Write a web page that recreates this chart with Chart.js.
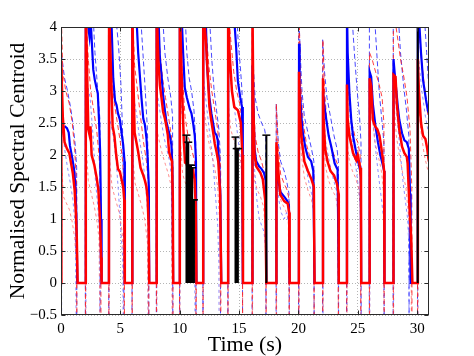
<!DOCTYPE html>
<html>
<head>
<meta charset="utf-8">
<script src="https://cdn.jsdelivr.net/npm/chart.js@4.4.1/dist/chart.umd.min.js"></script>
<style>
html,body{margin:0;padding:0;background:#fff;}
#wrap{width:474px;height:356px;}
</style>
</head>
<body>
<div id="wrap"><canvas id="c" width="474" height="356"></canvas></div>
<script>
// ---- tick labels ----
const xTickValues = [0, 5, 10, 15, 20, 25, 30];
const yTickValues = [-0.5, 0, 0.5, 1, 1.5, 2, 2.5, 3, 3.5, 4];

// ---- series values: [time (s), normalised spectral centroid] ----
const redSolid = [
[0,0],[0.03,3.4],[0.15,2.6],[0.3,2.2],[0.5,2.1],[0.7,2.03],[0.85,1.87],[1.0,1.71],[1.15,1.45],[1.25,1.1],[1.33,0.7],[1.4,0],[2.08,0],
[2.09,4.3],[2.3,2.4],[2.42,2.3],[2.48,2.45],[2.58,2.0],[2.8,1.85],[3.0,1.65],[3.15,1.45],[3.28,1.0],[3.38,0.4],[3.42,0],[4.04,0],
[4.05,4.3],[4.26,3.0],[4.35,2.45],[4.5,2.3],[4.65,2.0],[4.8,1.78],[4.96,1.74],[5.1,1.62],[5.24,1.5],[5.33,1.3],[5.37,0.5],[5.38,0],[6.0,0],
[6.01,4.3],[6.1,3.2],[6.2,2.35],[6.5,2.05],[6.7,1.8],[6.9,1.7],[7.07,1.6],[7.2,1.5],[7.3,1.32],[7.38,0.9],[7.43,0],[8.05,0],
[8.06,4.3],[8.2,3.5],[8.33,3.09],[8.47,2.89],[8.6,2.68],[8.75,2.57],[8.88,2.45],[9.0,2.31],[9.1,2.05],[9.25,1.95],[9.35,1.9],[9.42,1.3],[9.45,0],[10.0,0],
[10.01,4.3],[10.2,3.0],[10.35,2.2],[10.45,1.88],[10.8,1.83],[11.1,1.78],[11.25,1.62],[11.35,1.2],[11.41,0],[11.97,0],
[11.98,4.3],[12.2,3.8],[12.35,3.3],[12.5,2.76],[12.65,2.55],[12.83,2.34],[12.95,2.18],[13.1,2.05],[13.25,1.9],[13.4,1.4],[13.5,0],[14.07,0],
[14.08,4.3],[14.2,3.6],[14.4,3.0],[14.6,2.75],[14.9,2.7],[15.15,2.5],[15.28,2.0],[15.33,0],[16.12,0],
[16.13,4.3],[16.2,2.8],[16.3,2.0],[16.45,1.82],[16.8,1.72],[17.0,1.62],[17.2,1.3],[17.3,0],[18.14,0],
[18.15,2.2],[18.25,1.9],[18.35,1.65],[18.47,1.38],[18.8,1.28],[19.1,1.24],[19.22,1.1],[19.26,0],[20.04,0],
[20.05,3.3],[20.15,2.56],[20.3,2.2],[20.5,1.9],[20.8,1.75],[21.1,1.62],[21.3,1.5],[21.36,0],[22.06,0],
[22.07,3.2],[22.12,2.56],[22.25,2.1],[22.45,1.9],[22.7,1.75],[23.0,1.68],[23.25,1.55],[23.38,1.4],[23.4,0],[24.08,0],
[24.09,3.1],[24.15,2.56],[24.3,2.3],[24.6,2.03],[24.87,1.92],[25.0,2.0],[25.2,1.8],[25.27,1.6],[25.29,0],[25.99,0],
[26.0,3.2],[26.13,3.07],[26.27,2.55],[26.45,2.45],[26.65,2.4],[26.83,2.3],[26.97,2.13],[27.1,1.95],[27.22,1.75],[27.25,0],[28.0,0],
[28.01,3.25],[28.18,3.22],[28.29,2.8],[28.5,2.39],[28.73,2.13],[28.93,2.03],[29.13,1.97],[29.2,1.87],[29.35,1.2],[29.5,0.7],[29.6,0],[30.05,0],
[30.06,3.5],[30.15,3.0],[30.33,2.5],[30.5,2.3],[30.7,2.25],[30.85,2.1],[30.95,1.95],[31.0,1.9]
];

const blueSolid = [
[0.3,2.45],[0.5,2.42],[0.65,2.35],[0.75,2.15],[0.95,1.95],[1.1,1.78],[1.22,1.5],[1.3,1.0],[1.38,0],[2.08,0],
[2.09,4.3],[2.4,3.85],[2.5,4.1],[2.72,3.33],[2.85,3.17],[2.99,3.05],[3.1,2.96],[3.2,2.55],[3.3,2.03],[3.37,1.0],[3.42,0],[4.04,0],
[4.05,4.3],[4.25,4.1],[4.4,3.2],[4.55,2.85],[4.68,2.78],[4.8,2.65],[4.96,2.55],[5.1,2.35],[5.24,2.16],[5.35,1.9],[5.38,0],[6.0,0],
[6.01,4.3],[6.37,4.1],[6.5,3.6],[6.64,3.25],[6.78,2.89],[6.93,2.57],[7.07,2.47],[7.2,2.26],[7.3,1.95],[7.4,1.5],[7.43,0],[8.05,0],
[8.06,4.3],[8.2,4.2],[8.33,3.51],[8.47,3.25],[8.6,2.94],[8.75,2.7],[8.88,2.52],[9.02,2.41],[9.16,2.31],[9.3,2.16],[9.38,1.8],[9.45,0],[10.0,0],
[10.01,4.3],[10.2,4.0],[10.29,3.59],[10.43,3.05],[10.6,2.9],[10.71,2.82],[10.85,2.72],[10.99,2.65],[11.13,2.5],[11.27,2.3],[11.37,1.9],[11.41,0],[11.97,0],
[11.98,4.3],[12.2,4.1],[12.3,3.4],[12.5,2.9],[12.67,2.65],[12.81,2.5],[12.95,2.35],[13.1,2.31],[13.2,2.23],[13.3,1.9],[13.42,1.4],[13.5,0],[14.07,0],
[14.08,4.3],[14.6,4.1],[14.75,3.7],[14.9,3.15],[15.1,2.9],[15.25,2.75],[15.3,2.4],[15.33,0],[16.12,0],
[16.13,3.4],[16.2,2.9],[16.3,2.1],[16.45,1.9],[16.7,1.82],[16.9,1.78],[17.1,1.72],[17.25,1.6],[17.3,0],[18.14,0],
[18.15,2.0],[18.3,1.6],[18.5,1.42],[18.8,1.35],[19.0,1.3],[19.2,1.22],[19.26,0],[20.04,0],
[20.05,3.74],[20.1,3.1],[20.25,2.6],[20.38,2.34],[20.6,2.1],[20.8,1.97],[21.08,1.9],[21.25,1.75],[21.36,0],[22.06,0],
[22.07,3.0],[22.2,2.75],[22.35,2.55],[22.55,2.3],[22.77,2.13],[23.05,1.87],[23.3,1.77],[23.4,0],[24.08,0],
[24.09,4.3],[24.15,3.6],[24.3,2.95],[24.45,2.55],[24.6,2.3],[24.85,2.05],[25.15,1.8],[25.25,1.7],[25.29,0],[25.99,0],
[26.0,3.3],[26.13,3.22],[26.27,2.8],[26.49,2.45],[26.7,2.2],[26.9,2.0],[27.1,1.85],[27.22,1.75],[27.25,0],[28.0,0],
[28.01,3.5],[28.1,3.3],[28.25,3.0],[28.37,2.76],[28.5,2.55],[28.73,2.34],[28.93,2.23],[29.13,2.2],[29.3,2.1],[29.4,1.4],[29.45,0],[30.05,0],
[30.06,4.3],[30.2,4.0],[30.33,3.59],[30.5,3.17],[30.75,2.86],[30.9,2.7],[31.0,2.65]
];

const blueDashed = [
[0,-1],[0.02,3.6],[0.3,3.2],[0.55,3.0],[0.8,2.75],[1.0,2.5],[1.2,2.15],[1.32,1.8],[1.33,-1],
[2.05,-1],[2.06,4.3],[2.7,4.2],[2.86,3.6],[3.1,3.0],[3.28,2.55],[3.3,-1],
[4.02,-1],[4.03,4.3],[4.6,4.2],[4.85,3.7],[5.05,3.1],[5.2,2.3],[5.28,1.4],[5.3,-1],
[5.98,-1],[5.99,4.3],[6.7,4.2],[6.9,3.6],[7.1,3.0],[7.28,2.4],[7.38,1.6],[7.4,-1],
[8.03,-1],[8.04,4.3],[8.55,4.2],[8.75,3.6],[9.0,3.2],[9.25,2.9],[9.4,2.6],[9.42,-1],
[9.98,-1],[9.99,4.3],[10.45,4.2],[10.6,3.6],[10.8,3.2],[11.0,3.0],[11.2,2.7],[11.35,2.2],[11.37,-1],
[11.95,-1],[11.96,4.3],[12.5,4.2],[12.7,3.5],[12.9,3.0],[13.1,2.7],[13.3,2.4],[13.42,2.0],[13.44,-1],
[14.05,-1],[14.06,4.3],[14.8,4.2],[14.95,3.7],[15.1,3.4],[15.25,3.0],[15.3,-1],
[16.1,-1],[16.11,4.3],[16.2,3.4],[16.35,2.9],[16.6,2.65],[16.9,2.5],[17.15,2.4],[17.25,2.3],[17.27,-1],
[18.12,-1],[18.13,2.8],[18.3,2.2],[18.5,1.9],[18.8,1.75],[19.0,1.6],[19.2,1.4],[19.24,-1],
[20.01,-1],[20.02,4.3],[20.15,3.6],[20.3,3.0],[20.5,2.6],[20.8,2.35],[21.1,2.1],[21.3,1.9],[21.33,-1],
[22.03,-1],[22.04,3.8],[22.2,3.3],[22.4,2.9],[22.7,2.6],[23.0,2.3],[23.25,2.1],[23.37,1.9],[23.39,-1],
[24.05,-1],[24.06,4.3],[24.5,4.2],[24.75,3.5],[24.95,3.0],[25.15,2.6],[25.27,2.2],[25.29,-1],
[25.97,-1],[25.98,4.3],[26.4,4.2],[26.6,3.6],[26.8,3.0],[27.0,2.6],[27.2,2.2],[27.23,-1],
[27.98,-1],[27.99,4.3],[28.4,4.2],[28.6,3.6],[28.85,3.1],[29.1,2.7],[29.3,2.3],[29.33,-1],
[30.03,-1],[30.04,4.3],[30.6,4.2],[30.8,3.6],[31.0,3.0]
];

const redDashed = [
[0,-1],[0.01,4.3],[0.15,3.3],[0.4,3.0],[0.7,2.8],[0.95,2.5],[1.15,2.1],[1.32,1.5],[1.34,-1],
[2.06,-1],[2.07,4.3],[2.3,3.5],[2.5,3.0],[2.75,2.7],[3.0,2.4],[3.2,2.0],[3.35,1.5],[3.37,-1],
[4.03,-1],[4.04,4.3],[4.25,3.3],[4.5,2.8],[4.75,2.5],[5.0,2.2],[5.2,1.9],[5.33,1.3],[5.35,-1],
[5.99,-1],[6.0,4.3],[6.2,3.4],[6.45,3.0],[6.7,2.6],[6.95,2.2],[7.2,1.9],[7.38,1.5],[7.4,-1],
[8.04,-1],[8.05,4.3],[8.3,3.7],[8.55,3.2],[8.8,2.9],[9.05,2.6],[9.3,2.3],[9.42,1.9],[9.44,-1],
[9.99,-1],[10.0,4.3],[10.2,3.3],[10.45,2.6],[10.7,2.3],[11.0,2.1],[11.25,1.9],[11.38,1.5],[11.4,-1],
[11.96,-1],[11.97,4.3],[12.2,4.0],[12.45,3.4],[12.7,3.0],[12.95,2.7],[13.2,2.4],[13.45,1.8],[13.47,-1],
[14.06,-1],[14.07,4.3],[14.3,3.8],[14.55,3.3],[14.8,3.0],[15.05,2.8],[15.28,2.5],[15.3,-1],
[16.11,-1],[16.12,4.3],[16.2,3.0],[16.35,2.3],[16.6,2.05],[16.9,1.9],[17.15,1.7],[17.27,1.4],[17.29,-1],
[18.13,-1],[18.14,2.8],[18.3,2.1],[18.5,1.7],[18.8,1.55],[19.05,1.45],[19.22,1.3],[19.24,-1],
[20.03,-1],[20.04,4.3],[20.2,3.1],[20.4,2.5],[20.7,2.15],[21.0,1.95],[21.3,1.75],[21.33,-1],
[22.05,-1],[22.06,3.8],[22.2,3.0],[22.45,2.4],[22.7,2.15],[23.0,2.0],[23.3,1.85],[23.38,-1],
[24.07,-1],[24.08,3.4],[24.25,2.9],[24.5,2.5],[24.75,2.3],[25.0,2.2],[25.2,2.0],[25.27,-1],
[25.98,-1],[25.99,3.6],[26.2,3.5],[26.5,3.3],[26.8,3.1],[27.05,2.9],[27.2,2.5],[27.23,-1],
[27.99,-1],[28.0,4.3],[28.3,3.9],[28.6,3.5],[28.9,3.2],[29.15,2.9],[29.4,2.4],[29.55,1.5],[29.57,-1],
[30.04,-1],[30.05,4.3],[30.3,3.6],[30.6,3.1],[30.85,2.7],[31.0,2.5]
];

const pinkDashed = [
[0,-1],[0.02,2.0],[0.2,1.35],[0.45,1.25],[0.7,1.15],[0.95,0.95],[1.15,0.7],[1.3,0.3],[1.32,-1],
[2.08,-1],[2.1,2.2],[2.3,1.6],[2.55,1.4],[2.8,1.2],[3.0,1.0],[3.2,0.7],[3.3,-1],
[4.05,-1],[4.06,2.0],[4.3,1.5],[4.6,1.3],[4.9,1.1],[5.15,0.8],[5.3,0.3],[5.32,-1],
[6.01,-1],[6.02,2.0],[6.25,1.55],[6.5,1.4],[6.8,1.2],[7.05,1.0],[7.3,0.6],[7.36,-1],
[8.06,-1],[8.07,2.4],[8.3,2.2],[8.55,2.0],[8.8,1.85],[9.05,1.7],[9.3,1.5],[9.38,-1],
[10.01,-1],[10.02,2.3],[10.25,1.7],[10.5,1.55],[10.8,1.5],[11.05,1.4],[11.3,1.0],[11.36,-1],
[11.98,-1],[11.99,2.8],[12.2,2.5],[12.45,2.2],[12.7,2.0],[12.95,1.8],[13.2,1.5],[13.4,0.8],[13.42,-1],
[14.08,-1],[14.09,2.8],[14.3,2.4],[14.6,2.2],[14.9,2.1],[15.15,1.9],[15.28,1.5],[15.3,-1],
[16.13,-1],[16.14,2.0],[16.3,1.6],[16.55,1.45],[16.8,1.35],[17.05,1.2],[17.25,0.8],[17.27,-1],
[18.15,-1],[18.16,1.8],[18.35,1.4],[18.6,1.25],[18.9,1.15],[19.15,1.0],[19.22,-1],
[20.05,-1],[20.06,2.6],[20.25,2.0],[20.5,1.65],[20.8,1.45],[21.1,1.3],[21.3,1.1],[21.33,-1],
[22.07,-1],[22.08,2.3],[22.3,1.8],[22.55,1.6],[22.85,1.45],[23.15,1.35],[23.35,1.1],[23.37,-1],
[24.09,-1],[24.1,2.2],[24.3,1.9],[24.55,1.75],[24.8,1.65],[25.05,1.5],[25.25,1.2],[25.27,-1],
[26.0,-1],[26.01,2.8],[26.2,2.6],[26.45,2.2],[26.7,2.0],[26.95,1.8],[27.15,1.5],[27.22,-1],
[28.01,-1],[28.02,2.9],[28.25,2.3],[28.5,2.0],[28.8,1.7],[29.05,1.5],[29.3,1.0],[29.5,0.3],[29.52,-1],
[30.06,-1],[30.07,3.0],[30.3,2.4],[30.6,2.0],[30.85,1.8],[31.0,1.7]
];

const lightBlueDashed = [
[0.05,-1],[0.06,2.6],[0.3,2.1],[0.55,1.8],[0.8,1.55],[1.0,1.3],[1.2,0.9],[1.3,-1],
[2.1,-1],[2.11,3.2],[2.45,2.9],[2.7,2.3],[2.9,1.6],[3.1,1.2],[3.25,0.7],[3.28,-1],
[4.06,-1],[4.07,2.6],[4.4,2.3],[4.65,1.9],[4.85,1.4],[5.05,0.8],[5.2,0.4],[5.25,-1],
[6.02,-1],[6.03,3.0],[6.4,2.6],[6.65,2.2],[6.9,1.9],[7.1,1.6],[7.3,1.1],[7.35,-1],
[8.07,-1],[8.08,3.0],[8.4,2.6],[8.65,2.3],[8.9,2.1],[9.15,1.9],[9.35,1.6],[9.4,-1],
[10.02,-1],[10.03,3.0],[10.3,2.4],[10.55,2.1],[10.8,1.8],[11.05,1.3],[11.25,0.8],[11.3,-1],
[11.99,-1],[12.0,3.2],[12.3,2.7],[12.55,2.3],[12.8,1.9],[13.0,1.4],[13.2,0.9],[13.3,0.3],[13.32,-1],
[14.09,-1],[14.1,3.5],[14.4,3.0],[14.7,2.6],[14.95,2.2],[15.15,1.9],[15.28,1.6],[15.3,-1],
[16.14,-1],[16.15,2.6],[16.3,1.8],[16.5,1.3],[16.7,1.0],[16.9,0.9],[17.1,0.8],[17.25,0.5],[17.27,-1],
[18.16,-1],[18.17,1.8],[18.35,1.3],[18.55,1.1],[18.8,1.0],[19.0,1.1],[19.2,0.9],[19.23,-1],
[20.06,-1],[20.07,3.0],[20.3,2.3],[20.55,1.9],[20.85,1.6],[21.1,1.4],[21.3,1.2],[21.32,-1],
[22.08,-1],[22.09,2.7],[22.3,2.2],[22.6,1.9],[22.9,1.65],[23.2,1.45],[23.35,1.3],[23.37,-1],
[24.1,-1],[24.11,3.2],[24.35,2.6],[24.6,2.1],[24.85,1.8],[25.05,1.5],[25.22,1.2],[25.25,-1],
[26.01,-1],[26.02,3.0],[26.3,2.5],[26.55,2.0],[26.8,1.6],[27.0,1.3],[27.18,1.0],[27.2,-1],
[28.02,-1],[28.03,3.2],[28.3,2.6],[28.55,2.1],[28.8,1.6],[29.0,1.3],[29.2,1.0],[29.3,0.6],[29.32,-1],
[30.07,-1],[30.08,3.6],[30.4,3.0],[30.7,2.6],[31.0,2.3]
];

// black vertical marker lines: time and top value (each drawn from 0)
const blackT   = [10.57, 10.72, 10.85, 10.95, 11.05, 11.13, 11.2, 14.7, 14.8, 14.9, 17.3, 30.05];
const blackTop = [2.31, 2.2, 1.84, 1.84, 1.8, 1.3, 1.3, 2.28, 2.1, 2.1, 2.31, 4.3];

// ---- build chart data ----
const toXY = arr => arr.map(p => ({x: p[0], y: p[1]}));
const blackLines = [];
blackT.forEach((t, i) => { blackLines.push({x: t, y: 0}, {x: t, y: blackTop[i]}, {x: t, y: null}); });
const blackCaps = blackT.map((t, i) => ({x: t, y: blackTop[i]}));

const frame = {
  id: 'frame',
  afterDraw(chart) {
    const {ctx, chartArea: a, scales: {x, y}} = chart;
    ctx.save();
    ctx.strokeStyle = '#2a2a2a';
    ctx.lineWidth = 1;
    const L = Math.round(a.left) + 0.5, R = Math.round(a.right) - 0.5;
    const T = Math.round(a.top) + 0.5, B = Math.round(a.bottom) - 0.5;
    ctx.beginPath();
    xTickValues.forEach(v => {
      const px = Math.round(x.getPixelForValue(v)) + 0.5;
      ctx.moveTo(px, B); ctx.lineTo(px, B - 4);
      ctx.moveTo(px, T); ctx.lineTo(px, T + 4);
    });
    yTickValues.forEach(v => {
      const py = Math.round(y.getPixelForValue(v)) + 0.5;
      ctx.moveTo(L, py); ctx.lineTo(L + 4, py);
      ctx.moveTo(R, py); ctx.lineTo(R - 4, py);
    });
    ctx.stroke();
    ctx.strokeRect(L, T, R - L, B - T);
    ctx.restore();
  }
};

Chart.defaults.font.family = '"Liberation Serif", "Times New Roman", serif';
Chart.defaults.color = '#000';

const dash = (data, color, width, d) => ({
  data: toXY(data), borderColor: color, borderWidth: width, borderDash: d,
  pointRadius: 0, fill: false, tension: 0, clip: 0
});

new Chart(document.getElementById('c'), {
  type: 'line',
  data: {
    datasets: [
      {data: blackLines, borderColor: '#000', borderWidth: 2, pointRadius: 0, spanGaps: false, clip: 0},
      {data: blackCaps, showLine: false, pointStyle: 'line', pointRadius: 4, borderColor: '#000', borderWidth: 1.5, clip: 0},
      dash(redSolid, '#ff0000', 2.5, []),
      dash(blueSolid, '#0000ff', 2.2, []),
      dash(redDashed, 'rgba(255,30,30,0.85)', 1, [5, 3]),
      dash(pinkDashed, 'rgba(255,120,120,0.85)', 1, [3, 3]),
      dash(blueDashed, 'rgba(40,40,255,0.85)', 1, [5, 3]),
      dash(lightBlueDashed, 'rgba(120,120,255,0.85)', 1, [3, 3])
    ]
  },
  options: {
    responsive: false,
    animation: false,
    events: [],
    layout: {padding: {left: 0, right: 45, top: 27, bottom: 0}},
    plugins: {legend: {display: false}, tooltip: {enabled: false}},
    scales: {
      x: {
        type: 'linear', min: 0, max: 31,
        afterBuildTicks: s => { s.ticks = xTickValues.map(v => ({value: v})); },
        afterFit: s => { s.height = 41; },
        ticks: {font: {size: 15}, padding: 5, maxRotation: 0, includeBounds: false},
        grid: {color: '#b5b5b5', drawTicks: false},
        border: {display: false, dash: [1, 2]},
        title: {display: true, text: 'Time (s)', font: {size: 22, lineHeight: 1}, padding: {top: 0, bottom: 0}}
      },
      y: {
        type: 'linear', min: -0.5, max: 4,
        afterBuildTicks: s => { s.ticks = yTickValues.map(v => ({value: v})); },
        afterFit: s => { s.width = 61; },
        ticks: {font: {size: 15}, padding: 4, callback: v => (v < 0 ? '\u2212' + Math.abs(v) : String(v))},
        grid: {color: '#b5b5b5', drawTicks: false},
        border: {display: false, dash: [1, 2]},
        title: {display: true, text: 'Normalised Spectral Centroid', font: {size: 21.5, lineHeight: 1}, padding: {top: 8, bottom: 0}}
      }
    }
  },
  plugins: [frame]
});
</script>
</body>
</html>
